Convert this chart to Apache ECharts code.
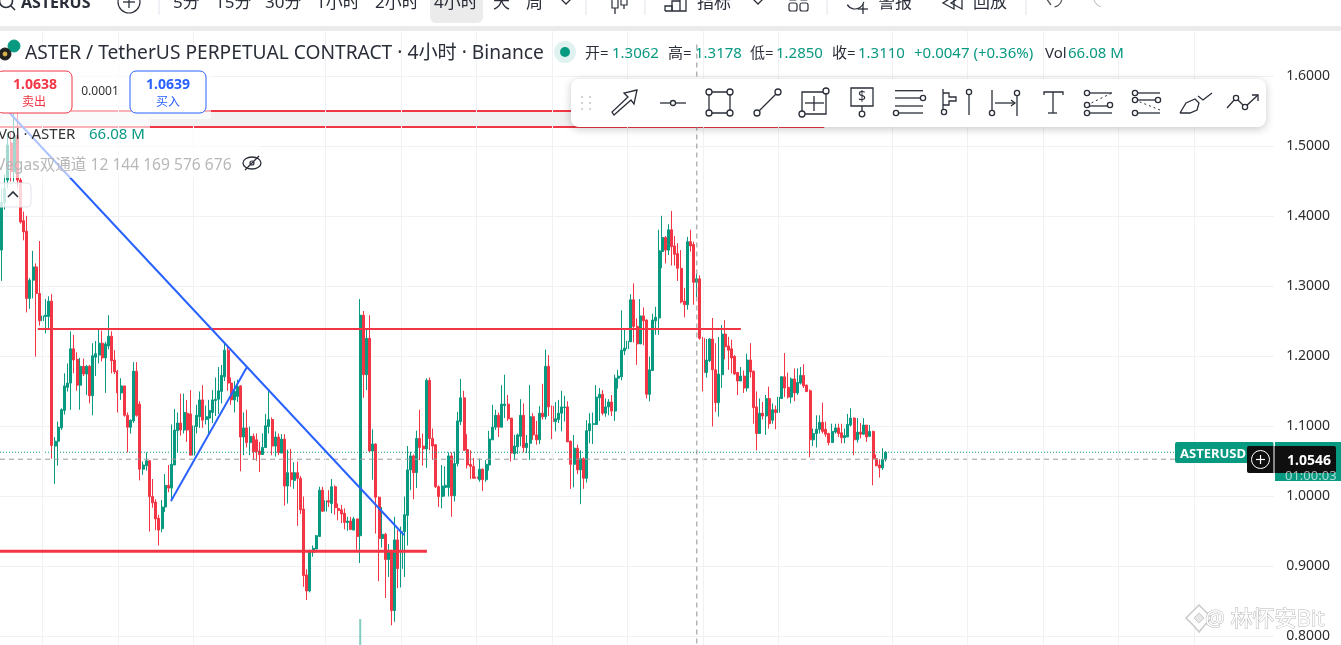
<!DOCTYPE html>
<html><head><meta charset="utf-8">
<style>html,body{margin:0;padding:0;background:#fff;overflow:hidden}#c{width:1341px;height:645px}</style>
<script src="https://cdn.jsdelivr.net/npm/echarts@6/dist/echarts.min.js"></script>
</head><body><div id="c"></div>
<script>
const opens=[
1.352,1.42,1.452,1.505,1.464,1.516,1.452,1.394,1.379,1.283,
1.309,1.328,1.290,1.251,1.257,1.257,1.279,1.072,1.079,1.098,
1.123,1.156,1.162,1.211,1.196,1.159,1.186,1.175,1.186,1.144,
1.199,1.202,1.219,1.198,1.215,1.229,1.195,1.179,1.148,1.158,
1.116,1.099,1.108,1.179,1.132,1.039,1.044,1.051,1.0,0.992,
0.969,0.954,0.985,1.016,1.012,1.045,1.094,1.105,1.095,1.119,
1.118,1.059,1.100,1.114,1.138,1.110,1.112,1.120,1.137,1.139,
1.150,1.171,1.209,1.162,1.138,1.143,1.158,1.085,1.098,1.077,
1.086,1.081,1.065,1.060,1.070,1.100,1.110,1.072,1.085,1.062,
1.082,1.015,1.034,1.023,1.034,1.026,0.982,0.888,0.865,0.920,
0.925,0.943,1.009,0.979,0.994,0.990,1.014,0.983,0.981,0.976,
0.963,0.965,0.952,0.968,0.944,1.259,1.174,1.226,1.065,1.075,
0.999,0.940,0.946,0.910,0.921,0.837,0.938,0.897,0.950,0.973,
1.038,1.058,1.034,1.083,1.072,1.068,1.166,1.083,1.074,1.014,
1.0,1.013,1.013,1.058,1.001,1.047,1.107,1.141,1.067,1.046,
1.043,1.028,1.024,1.039,1.024,1.045,1.081,1.099,1.116,1.099,
1.130,1.132,1.112,1.061,1.071,1.086,1.116,1.070,1.076,1.114,
1.088,1.081,1.119,1.114,1.186,1.129,1.107,1.110,1.119,1.127,
1.128,1.079,1.046,1.069,1.038,1.054,1.026,1.094,1.103,1.103,
1.141,1.146,1.119,1.128,1.135,1.122,1.169,1.171,1.208,1.211,
1.221,1.281,1.243,1.218,1.258,1.252,1.146,1.180,1.251,1.255,
1.350,1.370,1.352,1.381,1.358,1.347,1.326,1.279,1.274,1.364,
1.360,1.3062,1.311,1.226,1.177,1.194,1.225,1.181,1.134,1.174,
1.232,1.215,1.211,1.200,1.177,1.165,1.172,1.155,1.195,1.179,
1.128,1.090,1.119,1.115,1.140,1.109,1.124,1.120,1.140,1.171,
1.156,1.142,1.168,1.148,1.162,1.173,1.159,1.151,1.081,1.090,
1.096,1.106,1.096,1.090,1.077,1.092,1.098,1.091,1.084,1.085,
1.102,1.112,1.081,1.092,1.089,1.102,1.086,1.093,1.054,1.045,1.041,1.053];
const closes=[
1.42,1.44,1.502,1.464,1.516,1.452,1.392,1.378,1.283,1.309,
1.328,1.290,1.251,1.258,1.259,1.279,1.073,1.079,1.099,1.124,
1.158,1.162,1.211,1.195,1.159,1.186,1.175,1.186,1.144,1.201,
1.204,1.219,1.198,1.218,1.229,1.194,1.178,1.148,1.158,1.116,
1.099,1.109,1.179,1.116,1.039,1.045,1.051,1.0,0.991,0.968,
0.952,0.985,1.016,1.012,1.046,1.095,1.105,1.095,1.120,1.095,
1.059,1.101,1.116,1.138,1.109,1.114,1.123,1.138,1.139,1.151,
1.173,1.209,1.162,1.138,1.150,1.157,1.085,1.098,1.077,1.086,
1.064,1.064,1.060,1.070,1.101,1.110,1.072,1.085,1.063,1.082,
1.015,1.034,1.024,1.034,1.026,0.981,0.887,0.865,0.921,0.926,
0.944,1.009,0.979,0.994,0.992,1.014,0.984,0.980,0.975,0.963,
0.965,0.953,0.968,0.943,1.259,1.174,1.226,1.065,1.075,0.999,
0.940,0.946,0.910,0.921,0.837,0.938,0.897,0.950,0.974,1.038,
1.058,1.034,1.083,1.070,1.068,1.166,1.083,1.072,1.014,1.0,
1.015,1.016,1.058,1.001,1.047,1.108,1.141,1.066,1.045,1.043,
1.026,1.026,1.039,1.024,1.046,1.082,1.099,1.116,1.099,1.132,
1.132,1.111,1.062,1.072,1.088,1.116,1.070,1.076,1.114,1.088,
1.081,1.119,1.114,1.186,1.128,1.107,1.111,1.119,1.128,1.128,
1.078,1.046,1.069,1.038,1.054,1.026,1.094,1.104,1.104,1.142,
1.146,1.119,1.128,1.135,1.122,1.169,1.172,1.209,1.212,1.222,
1.281,1.243,1.218,1.258,1.251,1.146,1.181,1.252,1.256,1.351,
1.370,1.352,1.381,1.357,1.346,1.326,1.278,1.274,1.364,1.358,
1.306,1.3110,1.226,1.177,1.195,1.225,1.181,1.134,1.175,1.232,
1.214,1.209,1.198,1.175,1.165,1.172,1.155,1.195,1.178,1.127,
1.090,1.119,1.115,1.140,1.104,1.124,1.120,1.142,1.171,1.155,
1.142,1.168,1.148,1.163,1.173,1.158,1.150,1.081,1.090,1.096,
1.106,1.093,1.089,1.077,1.093,1.098,1.090,1.084,1.087,1.103,
1.112,1.081,1.092,1.089,1.102,1.085,1.093,1.054,1.044,1.041,1.053,1.0632];
const lows=[
1.308,1.41,1.44,1.45,1.45,1.44,1.39,1.366,1.263,1.268,
1.283,1.200,1.244,1.230,1.233,1.240,1.054,1.018,1.044,1.095,
1.117,1.150,1.124,1.176,1.151,1.124,1.172,1.145,1.133,1.116,
1.172,1.190,1.193,1.148,1.21,1.176,1.175,1.120,1.138,1.114,
1.063,1.090,1.105,1.114,1.023,1.031,1.037,0.950,0.984,0.952,
0.930,0.949,0.978,1.006,0.993,1.045,1.063,1.087,1.09,1.078,
1.059,1.055,1.09,1.098,1.098,1.103,1.09,1.105,1.115,1.118,
1.133,1.165,1.151,1.131,1.120,1.135,1.036,1.059,1.07,1.059,
1.052,1.051,1.035,1.060,1.070,1.09,1.059,1.057,1.059,1.062,
0.987,0.990,1.014,1.011,0.958,0.975,0.871,0.852,0.863,0.914,
0.925,0.943,0.978,0.943,0.985,0.976,0.974,0.966,0.962,0.953,
0.951,0.952,0.952,0.924,0.905,1.141,1.152,1.063,1.024,0.947,
0.879,0.927,0.855,0.885,0.816,0.821,0.869,0.870,0.885,0.930,
1.009,0.996,1.012,1.052,1.044,1.041,1.066,1.052,1.012,0.985,
0.983,1.0,1.0,0.971,0.993,1.043,1.102,1.065,1.040,1.025,
1.025,1.007,1.021,1.008,1.021,1.037,1.081,1.095,1.085,1.099,
1.112,1.108,1.050,1.053,1.061,1.072,1.063,1.062,1.052,1.081,
1.074,1.075,1.11,1.11,1.115,1.082,1.093,1.105,1.093,1.107,
1.078,1.011,1.013,1.032,0.989,1.011,1.020,1.076,1.075,1.102,
1.108,1.116,1.114,1.116,1.115,1.108,1.154,1.166,1.202,1.179,
1.221,1.22,1.188,1.218,1.216,1.140,1.136,1.18,1.231,1.231,
1.326,1.333,1.345,1.33,1.33,1.308,1.276,1.256,1.267,1.35,
1.274,1.2850,1.224,1.150,1.170,1.192,1.100,1.121,1.114,1.155,
1.196,1.181,1.176,1.174,1.145,1.165,1.148,1.150,1.17,1.104,
1.066,1.09,1.11,1.088,1.097,1.104,1.096,1.109,1.14,1.142,
1.14,1.133,1.136,1.145,1.16,1.155,1.149,1.056,1.072,1.070,
1.090,1.09,1.085,1.073,1.077,1.09,1.085,1.076,1.076,1.085,
1.10,1.059,1.077,1.083,1.088,1.078,1.085,1.016,1.043,1.027,1.038,1.050];
const highs=[
1.44,1.46,1.52,1.52,1.55,1.56,1.455,1.407,1.401,1.312,
1.351,1.333,1.365,1.301,1.282,1.286,1.289,1.085,1.107,1.126,
1.176,1.190,1.236,1.231,1.206,1.198,1.197,1.188,1.188,1.219,
1.222,1.239,1.237,1.221,1.259,1.236,1.209,1.181,1.169,1.158,
1.12,1.11,1.192,1.192,1.136,1.05,1.063,1.052,1.025,0.996,
0.974,0.995,1.032,1.045,1.103,1.125,1.12,1.147,1.147,1.138,
1.152,1.105,1.131,1.15,1.159,1.13,1.138,1.152,1.17,1.185,
1.188,1.219,1.215,1.170,1.165,1.167,1.159,1.120,1.124,1.10,
1.09,1.09,1.078,1.09,1.118,1.151,1.113,1.093,1.090,1.089,
1.089,1.067,1.068,1.049,1.05,1.029,1.0,0.896,0.924,0.93,
0.945,1.014,1.014,1.005,1.009,1.025,1.016,0.990,0.988,0.983,
0.971,0.971,0.971,0.968,1.282,1.265,1.239,1.259,1.096,1.076,
1.0,0.985,0.948,0.932,0.924,0.971,0.952,0.957,1.0,1.072,
1.064,1.06,1.094,1.124,1.09,1.169,1.170,1.097,1.075,1.016,
1.045,1.043,1.063,1.063,1.064,1.121,1.168,1.151,1.089,1.066,
1.055,1.035,1.054,1.040,1.052,1.094,1.131,1.124,1.12,1.159,
1.174,1.145,1.112,1.088,1.09,1.139,1.133,1.088,1.159,1.119,
1.108,1.129,1.161,1.210,1.202,1.13,1.135,1.138,1.151,1.144,
1.136,1.08,1.088,1.074,1.066,1.056,1.109,1.119,1.12,1.159,
1.155,1.152,1.140,1.139,1.145,1.174,1.181,1.266,1.240,1.236,
1.289,1.3045,1.2545,1.282,1.270,1.253,1.200,1.261,1.271,1.381,
1.401,1.372,1.389,1.408,1.372,1.362,1.352,1.298,1.371,1.381,
1.364,1.3178,1.316,1.228,1.225,1.226,1.255,1.219,1.228,1.245,
1.252,1.228,1.224,1.202,1.178,1.185,1.18,1.204,1.219,1.18,
1.150,1.140,1.135,1.145,1.157,1.133,1.13,1.150,1.172,1.205,
1.177,1.17,1.183,1.183,1.185,1.189,1.16,1.153,1.097,1.116,
1.116,1.134,1.107,1.091,1.104,1.104,1.104,1.104,1.097,1.118,
1.126,1.113,1.112,1.105,1.112,1.102,1.102,1.094,1.06,1.053,1.069,1.065];
const slotCount=405;
const spikeVolumeIndex=114, spikeVolume=100;
const priceTicks=[0.7,1.7];
const gridBars=[13.5,37.5,61.5,103.5,127.5,151.5,175.5,199.5,223.5,247.5,283.5,307.5,331.5,355.5,379.5];
const trendA=[[1.6,1.555],[128.4,0.945]];
const trendB=[[54.35,0.9936],[78.5,1.185]];
const resistance=[[12,1.2393],[235.5,1.2393]];
const support=[[0,0.9217],[135.7,0.9217]];
const zoneTop=1.5507, zoneBottom=1.5279, zoneEnd=262;
const crossBar=221.5, crossPrice=1.0533, lastPrice=1.0632, tagBar=373.5;

const UP='#089981',DOWN='#f23645',BLUE='#2962ff',INK='#2a2e39',GRID='#f1f1f3';
const FF='"Noto Sans","Noto Sans CJK SC",sans-serif';
const Z=100;
const T=(text,x,y,size,fill,o={})=>({type:'text',z:o.z||Z+2,silent:true,style:Object.assign({text,x,y,fill,font:(o.bold?'bold ':'')+size+'px '+FF,align:o.align||'left',verticalAlign:'middle',opacity:o.opacity==null?1:o.opacity},o.style||{})});
const R=(x,y,w,h,style,r=0,z=Z)=>({type:'rect',z,silent:true,shape:{x,y,width:w,height:h,r},style});
const L=(pts,stroke=INK,w=1.3,dash,z=Z+2)=>({type:'polyline',z,silent:true,shape:{points:pts},style:{stroke,fill:null,lineWidth:w,lineDash:dash}});
const C=(cx,cy,r,stroke=INK,w=1.3,fill='#fff',z=Z+3)=>({type:'circle',z,silent:true,shape:{cx,cy,r},style:{stroke,fill,lineWidth:w}});

const ui=[];
// translucent legend backdrops
ui.push(R(0,60,211,59,{fill:'rgba(255,255,255,.62)'},0,60));
ui.push(R(0,119,150,59,{fill:'rgba(255,255,255,.62)'},0,60));
ui.push(R(150,128,110,50,{fill:'rgba(255,255,255,.62)'},0,60));
// top bar
ui.push(R(0,0,1341,26,{fill:'#fff'}));
ui.push(R(0,26,1341,5,{fill:'#ebebeb'}));
ui.push(R(430,-8,53,31,{fill:'#ebebeb'},6,Z+1));
ui.push(C(6,1,6.5,INK,1.6,null),L([[11,6],[15,10]],INK,1.6));
ui.push(T('ASTERUS',21,3,16,INK,{bold:true}));
ui.push(C(129,2,11,INK,1.2,null),L([[123,2],[135,2]]),L([[129,-4],[129,8]]));
[[159,0,15],[586,0,15],[645,0,15],[827,0,15],[1026,0,15]].forEach(s=>ui.push(L([[s[0],s[1]],[s[0],s[2]]],'#e0e3eb',1)));
[['5分',173],['15分',215],['30分',265],['1小时',316],['2小时',375],['4小时',434],['天',493],['周',526],['指标',697],['警报',878],['回放',973]].forEach(t=>ui.push(T(t[0],t[1],3,17,INK)));
ui.push(L([[561,-1],[566,4],[571,-1]]),L([[753,-1],[758,4],[763,-1]]));
ui.push(R(612,-4,6,12,{fill:null,stroke:INK,lineWidth:1.2}),R(621,-4,6,9,{fill:null,stroke:INK,lineWidth:1.2}),L([[615,8],[615,14]]),L([[624,5],[624,9]]));
ui.push(L([[665,11],[686,11],[686,-3],[680,-3],[680,11]]),L([[665,11],[665,6],[672,6],[672,11]]),L([[672,11],[672,1],[680,1]]));
ui.push(R(789,3,8,8,{fill:null,stroke:INK,lineWidth:1.2},2),R(800,3,8,8,{fill:null,stroke:INK,lineWidth:1.2},2),R(789,-8,8,8,{fill:null,stroke:INK,lineWidth:1.2},2),R(800,-8,8,8,{fill:null,stroke:INK,lineWidth:1.2},2));
ui.push({type:'arc',z:Z+2,silent:true,shape:{cx:855,cy:0,r:9,startAngle:0.2,endAngle:2.6},style:{stroke:INK,fill:null,lineWidth:1.2}},L([[863,4],[863,14]]),L([[858,9],[868,9]]));
ui.push(L([[954,-4],[943,3],[954,9],[954,-4]]),L([[962,-4],[951,3],[962,9],[962,-4]]));
ui.push({type:'arc',z:Z+2,silent:true,shape:{cx:1053,cy:-2,r:9,startAngle:-0.6,endAngle:1.4},style:{stroke:'#555',fill:null,lineWidth:1.2}},L([[1046,-2],[1051,5]],'#555'));
ui.push({type:'arc',z:Z+2,silent:true,shape:{cx:1103,cy:-2,r:9,startAngle:1.8,endAngle:3.8},style:{stroke:'#c8c8c8',fill:null,lineWidth:1.2}});

// title row
ui.push(C(14,46,6,UP,1,UP),C(5,54,6,'#1d1d1d',1,'#222'),C(5,54,2,'#d8b24a',1,'#d8b24a'));
ui.push(T('ASTER / TetherUS PERPETUAL CONTRACT · 4小时 · Binance',25,54,19.2,INK));
ui.push(C(565,52,11,'rgba(8,153,129,.13)',0,'rgba(8,153,129,.13)'),C(565,52,5,UP,0,UP));
[['开=',585],['高=',668],['低=',750],['收=',832],['Vol',1045]].forEach(t=>ui.push(T(t[0],t[1],53.5,15,INK)));
[['1.3062',612],['1.3178',695],['1.2850',776],['1.3110',858],['+0.0047 (+0.36%)',914],['66.08 M',1068]].forEach(t=>ui.push(T(t[0],t[1],53.5,15,UP)));

// bid / ask
ui.push(R(-3,71,75,42,{fill:'#fff',stroke:DOWN,lineWidth:1},6));
ui.push(R(130,71,76,42,{fill:'#fff',stroke:BLUE,lineWidth:1},6));
ui.push(T('1.0638',35,85,14,DOWN,{align:'center',bold:true}),T('卖出',34,102.5,12,DOWN,{align:'center'}));
ui.push(T('1.0639',168,85,14,BLUE,{align:'center',bold:true}),T('买入',168,102.5,12,BLUE,{align:'center'}));
ui.push(T('0.0001',100,92,12,'#333',{align:'center'}));

// legends
ui.push(T('Vol · ASTER',-2,135,15,'#333'),T('66.08 M',89,135,15,UP));
ui.push(T('Vegas双通道 12 144 169 576 676',-4,166,15.6,'#b8b8b8'));
ui.push({type:'ellipse',z:Z+2,silent:true,shape:{cx:252,cy:163,rx:9,ry:6},style:{stroke:INK,fill:null,lineWidth:1.3}},L([[245,170],[259,156]],INK,1.3),C(252,163,2,INK,1.2,null));
ui.push(R(-4,183,35,24,{fill:'rgba(255,255,255,.8)',stroke:'#e0e3eb',lineWidth:1},4),L([[8,197],[13,192],[18,197]],INK,1.6));

// drawing toolbar
ui.push(R(571,79,695,48,{fill:'#fff',shadowBlur:9,shadowColor:'rgba(0,0,0,.22)',shadowOffsetY:2},8));
[582,590].forEach(x=>[97,103,109].forEach(y=>ui.push(C(x,y,1,'#c4c4c4',0,'#c4c4c4'))));
ui.push({type:'polygon',z:Z+2,silent:true,shape:{points:[[637,90],[624,93],[628,97],[612,112],[614,115],[631,100],[634,104]]},style:{stroke:INK,fill:null,lineWidth:1.3}});
ui.push(L([[660,103],[686,103]]),C(673,103,2.5));
ui.push(R(709,92,21,21,{fill:null,stroke:INK,lineWidth:1.3},0,Z+2),C(709,92,3),C(730,92,3),C(709,113,3),C(730,113,3));
ui.push(L([[757,113],[778,92]]),C(757,113,3),C(778,92,3));
ui.push(R(802,92,24,22,{fill:null,stroke:INK,lineWidth:1.3},0,Z+2),L([[814,96],[814,111]]),L([[805,103],[824,103]]),C(802,114,3),C(826,91,3));
ui.push(R(851,88,22,18,{fill:null,stroke:INK,lineWidth:1.3},0,Z+2),T('$',862,97,14,INK,{align:'center'}),L([[862,106],[862,111]]),C(862,114,2.8));
[90.7,98,106,113].forEach((y,i)=>ui.push(L([[i==3?899:895,y],[i==1?920:923,y]])));ui.push(C(923,98,2.6),C(896,113,2.6));
ui.push(L([[943,89],[943,109]]),L([[943,93],[949,93],[949,97],[956,97],[956,101],[949,101],[949,105],[943,105]]),C(944,112,2.6),L([[969,95],[969,115]]),C(969,92,2.6));
ui.push(L([[992,90],[992,110]]),C(992,113,2.6),L([[995,103],[1015,103]]),L([[1011,100],[1015,103],[1011,106]]),L([[1017,96],[1017,116]]),C(1017,93,2.6));
ui.push(L([[1044,95],[1044,92],[1063,92],[1063,95]]),L([[1053,92],[1053,113]]),L([[1048,113],[1057,113]]));
[93,113].forEach(y=>ui.push(L([[1087,y],[1112,y]])));ui.push(L([[1087,106],[1110,106]]),L([[1087,105],[1112,93]],INK,1,[2,3]),C(1087,93,2.6),C(1087,105,2.6),C(1110,105,2.6),C(1087,113,2.6));
[93,113].forEach(y=>ui.push(L([[1135,y],[1160,y]])));ui.push(L([[1135,100],[1158,100]]),L([[1135,100],[1160,110]],INK,1,[2,3]),C(1135,93,2.6),C(1135,100,2.6),C(1158,100,2.6),C(1135,113,2.6));
ui.push(L([[1180,113],[1186,103],[1195,99],[1199,103],[1197,110],[1190,113],[1180,113]]),L([[1198,96],[1203,100],[1212,93]]));
ui.push(L([[1227,108],[1236,98],[1245,107],[1258,95]]),L([[1252,95],[1258,95],[1258,101]]),C(1236,98,2.6),C(1245,107,2.6));

// right-hand tags
ui.push(R(1175,442,99,21,{fill:UP},2,Z));
ui.push(T('ASTERUSD',1180,454,13,'#fff',{bold:true}));
ui.push(R(1275,442,66,39,{fill:UP},0,Z));
ui.push(T('01:00:03',1285,476,13,'rgba(255,255,255,.65)'));
ui.push(R(1247,446,89,27,{fill:'#0f0f0f'},2,Z+1));
ui.push(L([[1274,441],[1274,473]],'#fff',1,null,Z+2));
ui.push(C(1260.5,459.5,9,'#fff',1,null),L([[1256,459.5],[1265,459.5]],'#fff',1.2),L([[1260.5,455],[1260.5,464]],'#fff',1.2));
ui.push(T('1.0546',1287,461,14,'#fff',{bold:true}));

// watermark
ui.push({type:'polygon',z:Z,silent:true,shape:{points:[[1186,618],[1194,610],[1199,605],[1204,610],[1212,618],[1204,626],[1199,632],[1194,626]]},style:{fill:'#fff',stroke:'#c9c9c9',lineWidth:1.5}},
 {type:'polygon',z:Z,silent:true,shape:{points:[[1194,618],[1199,613],[1204,618],[1199,623]]},style:{fill:'#e7e7e7',stroke:'#c9c9c9',lineWidth:1}});
ui.push(T('@ 林怀安Bit',1205,620,22,'#fff',{z:Z,style:{stroke:'#b5b5b5',lineWidth:1}}));

const slots=Array.from({length:slotCount},(_,i)=>String(i));
const candles=opens.map((o,i)=>[o,closes[i],lows[i],highs[i]]);
const volumes=slots.map((_,i)=>i===spikeVolumeIndex?spikeVolume:null);
const line=(data,color,width,type='solid',z=5)=>({type:'line',xAxisIndex:1,yAxisIndex:0,data,symbol:'none',silent:true,z,clip:true,lineStyle:{color,width,type}});

const chart=echarts.init(document.getElementById('c'),null,{renderer:'canvas'});
chart.setOption({
 animation:false,backgroundColor:'#fff',
 grid:{left:0,top:6.5,width:slotCount*3.146,height:700,outerBoundsMode:'none',containLabel:false},
 xAxis:[
  {type:'category',data:slots,axisLabel:{show:false},axisTick:{show:false},axisLine:{show:false},splitLine:{show:false}},
  {type:'value',min:0,max:slotCount,show:false,splitLine:{show:false}}
 ],
 yAxis:[
  {type:'value',position:'right',min:priceTicks[0],max:priceTicks[1],interval:0.1,axisLine:{show:false},axisTick:{show:false},
   splitLine:{lineStyle:{color:GRID,width:1}},
   axisLabel:{margin:12,color:'#2f2f2f',fontSize:14,fontFamily:FF,padding:[3,0,0,0],formatter:v=>v.toFixed(4)}},
  {type:'value',min:0,max:800,show:false,splitLine:{show:false}}
 ],
 graphic:ui,
 series:[
  {type:'line',xAxisIndex:1,yAxisIndex:0,data:[[0,1]],symbol:'none',silent:true,z:1,lineStyle:{opacity:0},
   markLine:{silent:true,symbol:'none',label:{show:false},animation:false,lineStyle:{color:GRID,width:1,type:'solid'},data:gridBars.map(b=>({xAxis:b}))},
   markArea:{silent:true,itemStyle:{color:'#f1f1f1'},data:[[{xAxis:0,yAxis:zoneTop},{xAxis:zoneEnd,yAxis:zoneBottom}]]}},
  line([[0,zoneTop],[zoneEnd,zoneTop]],DOWN,2,'solid',2),
  line([[0,zoneBottom],[zoneEnd,zoneBottom]],DOWN,2,'solid',2),
  {type:'bar',xAxisIndex:0,yAxisIndex:1,data:volumes,barWidth:2,z:2,silent:true,itemStyle:{color:'rgba(8,153,129,.5)'}},
  {type:'candlestick',xAxisIndex:0,yAxisIndex:0,data:candles,barWidth:2.5,z:3,silent:true,
   itemStyle:{color:UP,color0:DOWN,borderColor:UP,borderColor0:DOWN,borderWidth:1}},
  line([[0,lastPrice],[tagBar,lastPrice]],UP,1,[1,2],4),
  line([[0,crossPrice],[tagBar,crossPrice]],'#9a9a9a',1,[5,4],4),
  line([[crossBar,priceTicks[0]],[crossBar,1.6507]],'#8f8f8f',1,[5,4],4),
  line(resistance,DOWN,2),
  line(support,DOWN,3),
  line(trendA,BLUE,2),
  line(trendB,BLUE,2)
 ]
});
</script></body></html>
